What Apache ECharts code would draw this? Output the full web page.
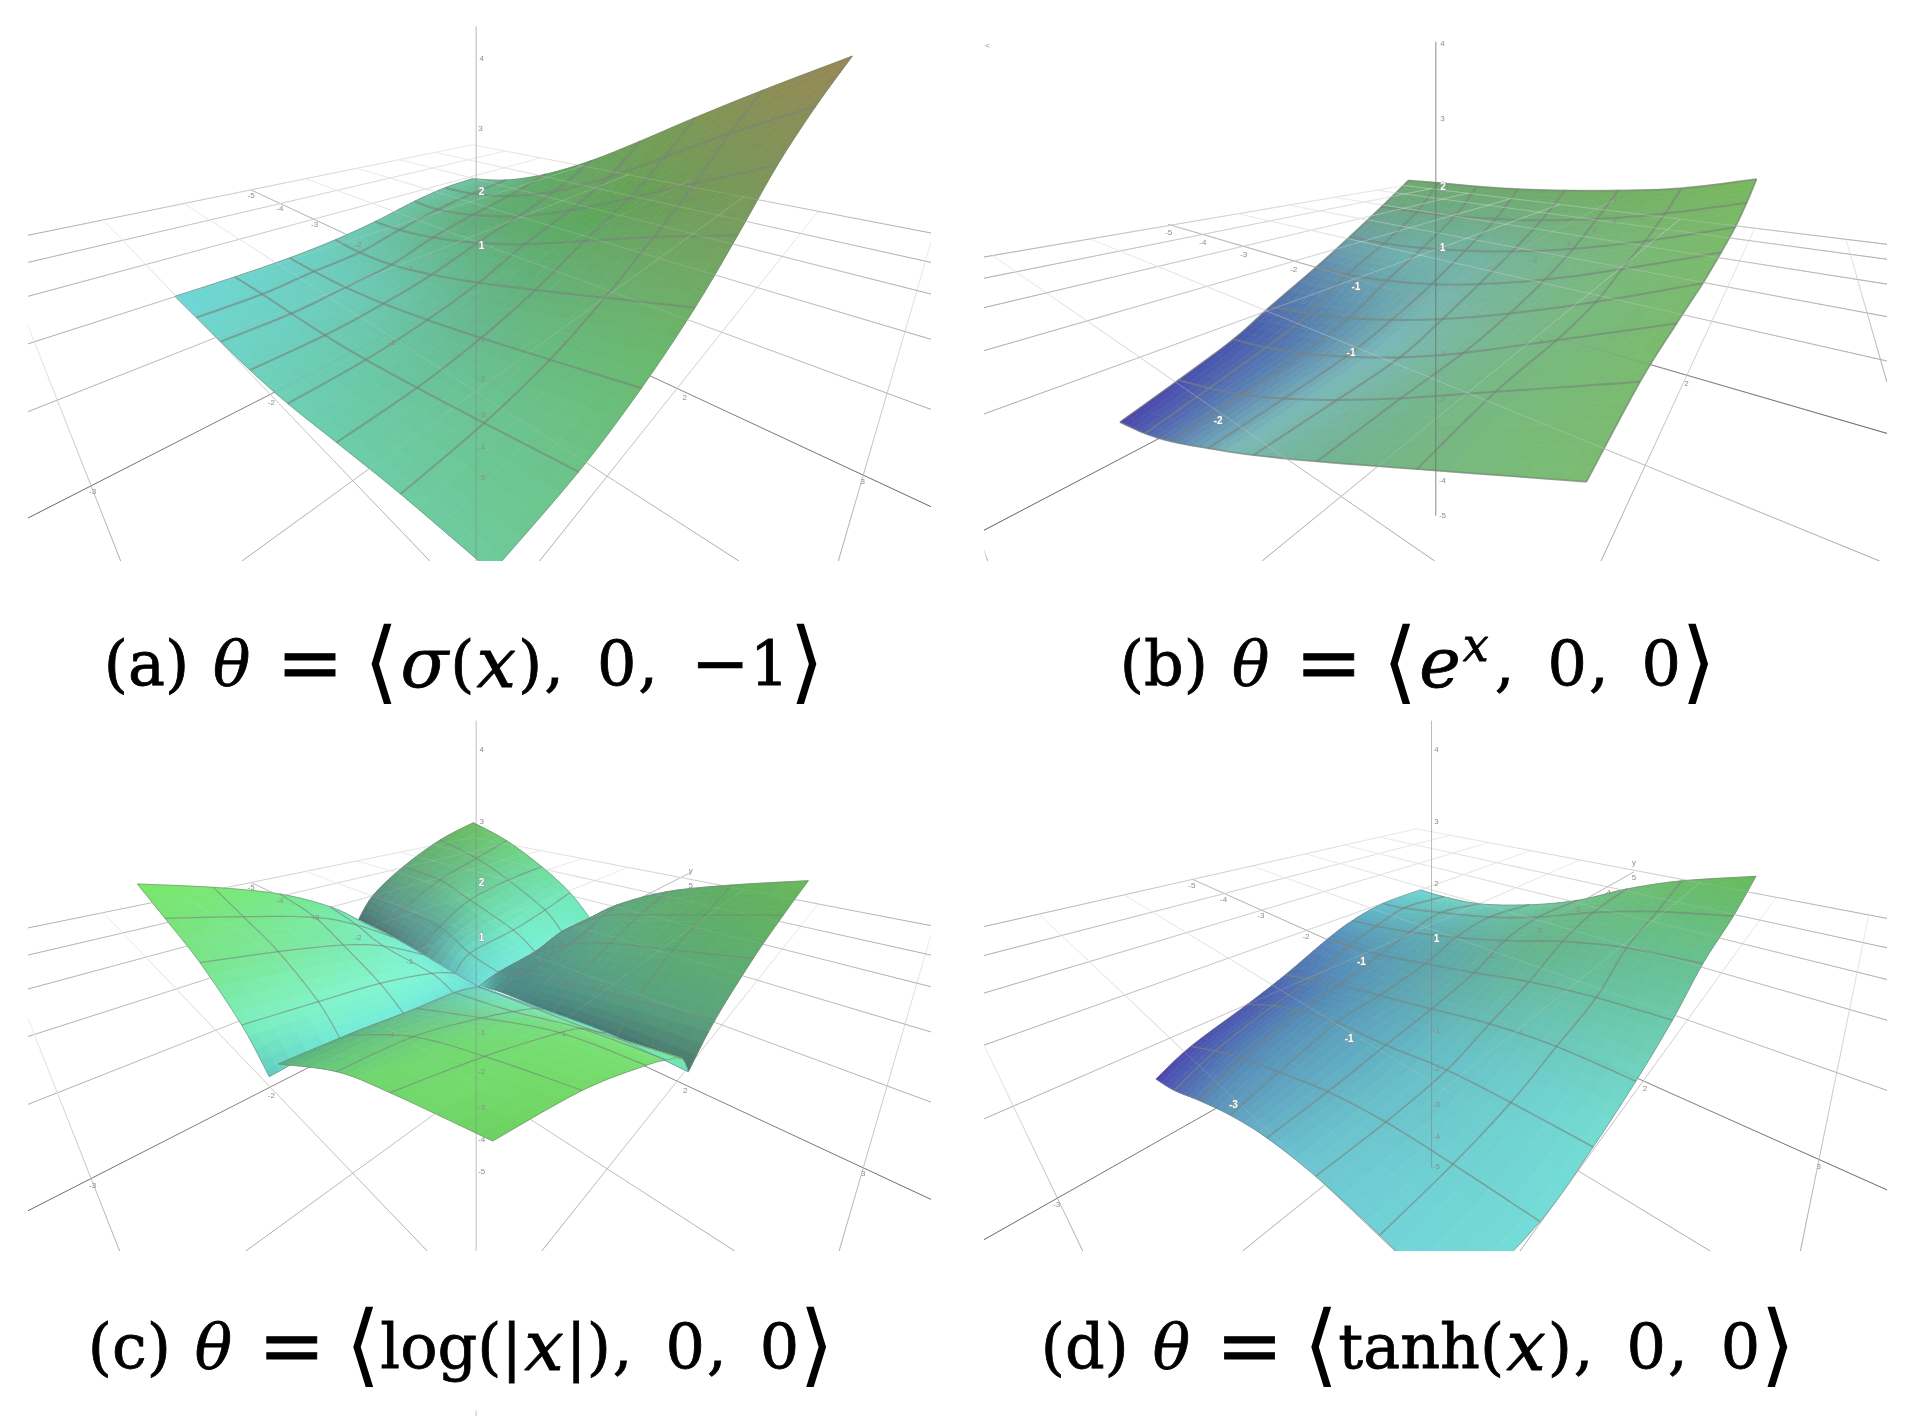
<!DOCTYPE html>
<html>
<head>
<meta charset="utf-8">
<title>Loss surfaces</title>
<style>
  html, body { margin: 0; background: #fff; }
  #chart { width: 1912px; height: 1416px; }
</style>
<script src="https://cdn.jsdelivr.net/npm/echarts@6/dist/echarts.min.js"></script>
</head>
<body>
<div id="chart"></div>
<script>
// panel a: surface nodes (rows run from the near-left edge to the far edge)
const aMeshX = [
  [287, 322, 362, 410, 472, 552, 657, 807],
  [385, 430, 478, 533, 600, 684, 794, 949],
  [475, 515, 567, 629, 701, 789, 902, 1052],
  [550, 590, 642, 708, 785, 878, 992, 1140],
  [615, 655, 710, 783, 860, 958, 1072, 1210],
  [680, 718, 775, 850, 935, 1032, 1140, 1275],
  [730, 775, 835, 910, 998, 1090, 1197, 1338],
  [775, 830, 895, 970, 1050, 1140, 1250, 1398]
];
const aMeshY = [
  [655, 702, 755, 818, 892, 978, 1092, 1265],
  [612, 650, 693, 741, 795, 857, 935, 1043],
  [570, 600, 635, 671, 707, 747, 795, 858],
  [530, 558, 585, 607, 625, 641, 658, 680],
  [490, 508, 525, 537, 540, 533, 524, 520],
  [445, 463, 475, 478, 465, 438, 405, 365],
  [415, 428, 433, 423, 392, 347, 295, 235],
  [395, 398, 385, 355, 312, 260, 200, 124]
];
const aShades = [
  ['#6ed8d8', '#6ed3c6', '#6ccfb0', '#6fcb9b'],
  ['#6dd0c4', '#6cc8b4', '#66b88c', '#69b96c'],
  ['#6cc4a8', '#62ae7a', '#5ca65a', '#7d9558'],
  ['#70c4a8', '#5ea860', '#7a9a55', '#9a8556']
];

// panel b
const bMeshX = [
  [269, 310, 354, 414, 488, 592, 756, 1034],
  [365, 415, 470, 538, 625, 730, 885, 1122],
  [455, 508, 570, 640, 728, 832, 985, 1182],
  [515, 580, 645, 715, 798, 908, 1050, 1225],
  [592, 642, 707, 780, 858, 966, 1092, 1255],
  [646, 702, 765, 835, 912, 1012, 1130, 1278],
  [698, 756, 818, 885, 960, 1051, 1163, 1297],
  [742, 791, 854, 922, 999, 1086, 1190, 1313]
];
const bMeshY = [
  [933, 958, 976, 991, 1006, 1020, 1037, 1065],
  [840, 858, 872, 881, 884, 880, 866, 844],
  [750, 768, 781, 788, 790, 780, 752, 715],
  [678, 693, 703, 707, 705, 693, 667, 626],
  [589, 607, 620, 628, 628, 618, 595, 558],
  [523, 538, 548, 554, 556, 550, 533, 502],
  [457, 468, 478, 484, 487, 484, 472, 448],
  [399, 404, 412, 418, 421, 421, 416, 396]
];
const bShades = [
  ['#4a3fae', '#5878b4', '#7ab8b8', '#72b490', '#7cbc70'],
  ['#4658ae', '#5a85b0', '#7ab8b8', '#78b88f', '#7aba6c'],
  ['#6a9cae', '#6fb0ae', '#74b4a4', '#78b683', '#7aba66'],
  ['#6fab68', '#6ea86c', '#70aa68', '#73b062', '#79b85e']
];

// panel d
const dMeshX = [
  [328, 358, 400, 450, 510, 590, 695, 820],
  [385, 425, 470, 530, 610, 705, 815, 958],
  [478, 520, 565, 625, 705, 805, 910, 1045],
  [540, 582, 630, 695, 780, 875, 985, 1115],
  [610, 645, 695, 770, 850, 940, 1050, 1175],
  [650, 690, 745, 820, 900, 995, 1100, 1225],
  [700, 735, 795, 875, 955, 1045, 1150, 1275],
  [762, 800, 860, 940, 1020, 1100, 1190, 1312]
];
const dMeshY = [
  [820, 845, 868, 900, 950, 1035, 1165, 1330],
  [748, 758, 775, 805, 848, 915, 1008, 1135],
  [655, 658, 670, 695, 745, 800, 872, 970],
  [590, 600, 612, 635, 665, 698, 748, 825],
  [510, 525, 545, 565, 585, 605, 640, 690],
  [470, 482, 495, 507, 514, 516, 530, 565],
  [432, 442, 452, 462, 462, 452, 450, 460],
  [402, 417, 433, 435, 425, 400, 382, 372]
];
const dShades = [
  ['#4a3fb0', '#5a90b8', '#6cc4d0', '#74dddc'],
  ['#4a58ae', '#5590b8', '#66bcc4', '#74dcd2'],
  ['#5a9cc0', '#5da6b4', '#66b58f', '#68c49a'],
  ['#6fd9d9', '#72cfb8', '#6fc080', '#68b957']
];

// panel c: four petals, read at 3x from the crop starting at (130,810)
const farMeshX = [
  [1030, 1130, 1235, 1320, 1380],
  [930, 1040, 1135, 1245, 1295],
  [820, 930, 1020, 1150, 1215],
  [730, 820, 930, 1020, 1105],
  [685, 770, 865, 975, 1045]
];
const farMeshY = [
  [38, 92, 170, 248, 325],
  [90, 145, 210, 300, 365],
  [170, 210, 270, 360, 425],
  [255, 300, 350, 430, 487],
  [330, 370, 425, 490, 530]
];
const farShades = [
  ['#6cc060', '#6ece78', '#6fdc98', '#72e8b8', '#70e8c0'],
  ['#66b268', '#6cc480', '#6fd6a0', '#74eac0', '#78f0d0'],
  ['#64a878', '#68b888', '#6ccf98', '#76ecc8', '#78f0d8'],
  ['#5a8e84', '#5f9e90', '#5faa9c', '#6cd8c4', '#72e8dc'],
  ['#4a6e6e', '#4f7a78', '#58908c', '#66c0c0', '#6ee0d8']
];
const rightMeshX = [
  [1380, 1460, 1610, 1805, 2035],
  [1295, 1420, 1530, 1725, 1960],
  [1215, 1320, 1440, 1630, 1870],
  [1105, 1170, 1330, 1520, 1755],
  [1045, 1110, 1270, 1460, 1675]
];
const rightMeshY = [
  [325, 285, 245, 225, 212],
  [365, 318, 315, 315, 315],
  [425, 402, 400, 420, 445],
  [487, 490, 520, 570, 630],
  [530, 545, 610, 680, 785]
];
const rightShades = [
  ['#70e0b0', '#5aa07a', '#5ea870', '#62b060', '#6cba5c'],
  ['#5aa08c', '#5ea884', '#60ad78', '#5fad68', '#62b25f'],
  ['#4f8f8c', '#589e88', '#5caa80', '#5dab74', '#5eaf6c'],
  ['#4f9090', '#4f8c88', '#559a88', '#58a080', '#5aa47c'],
  ['#6cd8d0', '#4a8a88', '#457a78', '#467672', '#4a6f6a']
];
const leftMeshX = [
  [22, 250, 450, 600, 685],
  [105, 340, 555, 680, 790],
  [210, 445, 640, 760, 880],
  [335, 565, 750, 905, 975],
  [418, 630, 820, 970, 1045]
];
const leftMeshY = [
  [222, 232, 252, 290, 330],
  [325, 320, 322, 345, 382],
  [458, 425, 405, 408, 434],
  [645, 575, 520, 490, 490],
  [800, 685, 610, 548, 530]
];
const leftShades = [
  ['#7ae668', '#78e870', '#72e885', '#70eaa0', '#70e8c0'],
  ['#78e474', '#7ae688', '#7aeaa0', '#78ecb8', '#76f0d0'],
  ['#7ae488', '#7ce89c', '#7ceab0', '#7ef0c8', '#76f0de'],
  ['#7ceebc', '#82f4c8', '#84f6d0', '#80f4d8', '#70e8de'],
  ['#5cc8c0', '#72ecd8', '#72ecdc', '#6ce4dc', '#6edcd8']
];
const frontMeshX = [
  [445, 652, 860, 975, 1045, 1045],
  [620, 850, 1055, 1150, 1215, 1240],
  [780, 1064, 1290, 1355, 1400, 1430],
  [1088, 1357, 1549, 1610, 1655, 1675]
];
const frontMeshY = [
  [762, 675, 595, 548, 530, 530],
  [785, 680, 624, 605, 595, 599],
  [848, 739, 668, 656, 665, 669],
  [993, 841, 766, 750, 745, 785]
];
const frontShades = [
  ['#56b07c', '#5fb280', '#66c09a', '#66cdb0', '#6ed8d0', '#70e0d8'],
  ['#66c87a', '#6cc880', '#72cf90', '#78dea8', '#78e8c0', '#70ecd8'],
  ['#70d670', '#72d873', '#76dc80', '#7ae090', '#7ce8a8', '#70ecd8'],
  ['#72d86a', '#74dc6e', '#78e074', '#7ae480', '#7ae890', '#70ecd8'],
  ['#6ccf60', '#74da68', '#78e070', '#7ae478', '#7ae880', '#6ee8d0']
];

// ground grid, first two lines of every list are the axes
const aGroundX = [
  [46, 1132], [1527, 412], [46, 775], [46, 829], [46, 887], [46, 955], [46, 1031], [397, 1220], [885, 1342], [1375, 1527],
  [1527, 775], [1527, 714], [1527, 656], [1527, 586], [1527, 501], [1212, 302], [705, 169], [198, 46]
];
const aGroundY = [
  [1145, 398], [1120, 420], [520, 320], [580, 334], [655, 349], [760, 367], [910, 386], [1240, 435], [1240, 467], [1240, 535],
  [515, 320], [580, 337], [650, 353], [750, 372], [905, 395], [1240, 450], [1240, 486], [1240, 720]
];
const bGroundX = [
  [46, 1082], [1527, 348], [46, 735], [46, 779], [46, 839], [46, 910], [46, 990], [502, 1188], [1058, 1310], [1527, 1460],
  [1527, 735], [1527, 688], [1527, 620], [1527, 544], [1527, 461], [1515, 220], [785, 60], [52, 46]
];
const bGroundY = [
  [1172, 440], [958, 496], [568, 410], [615, 417], [680, 427], [775, 439], [915, 452], [1240, 484], [1240, 505], [845, 530],
  [540, 410], [573, 420], [628, 436], [700, 453], [798, 472], [1240, 528], [1240, 565], [1240, 1215]
];
const dGroundX = [
  [46, 1112], [1527, 387], [46, 755], [46, 811], [46, 874], [46, 943], [46, 1023], [470, 1221], [925, 1345], [1385, 1497],
  [1527, 755], [1527, 694], [1527, 637], [1527, 573], [1527, 485], [1237, 276], [720, 136], [208, 46]
];
const dGroundY = [
  [1175, 362], [1065, 378], [483, 267], [547, 281], [630, 297], [745, 315], [908, 336], [1200, 386], [1200, 419], [1200, 458],
  [465, 267], [530, 285], [600, 303], [690, 322], [845, 349], [1200, 413], [1200, 455], [1200, 745]
];

// the value axis, as x and y pairs
const aAxisX = [[781, 781]];
const aAxisY = [[58, 1240]];
const bAxisX = [[787, 787]];
const bAxisY = [[92, 1140]];
const cAxisX = [[781, 781], [781, 781]];
const cAxisY = [[28, 1200], [1553, 1568]];
const dAxisX = [[780, 780]];
const dAxisY = [[28, 1015]];

// tick labels
const aTickText = ['4', '3', '-1', '-2', '-3', '-4', '-5', '-5', '-4', '-3', '-2', '-1', '1', '2', '3', '4', '5', 'y', '-1', '1', '2', '3', '-2', '-3'];
const aTickX = [790, 788, 790, 790, 790, 790, 790, 412, 459, 516, 587, 672, 885, 968, 1033, 1088, 1132, 1132, 642, 925, 1123, 1415, 445, 152];
const aTickY = [130, 285, 750, 838, 917, 990, 1057, 432, 462, 497, 540, 595, 594, 538, 494, 458, 428, 396, 757, 757, 880, 1065, 890, 1087];
const aWhiteText = ['2', '1'];
const aWhiteX = [790, 790];
const aWhiteY = [424, 545];

const bTickText = ['4', '3', '-1', '-2', '-3', '-4', '-5', '-5', '-4', '-3', '-2', '1', '2', '3', '4', '5', 'y', '1', '2', '<'];
const bTickX = [798, 798, 797, 797, 797, 798, 798, 349, 405, 472, 554, 882, 951, 1005, 1047, 1080, 1081, 960, 1198, 52];
const bTickY = [96, 263, 781, 884, 976, 1062, 1141, 515, 537, 563, 596, 622, 574, 538, 510, 487, 440, 755, 849, 102];
const bWhiteText = ['2', '1', '-1', '-1', '-2'];
const bWhiteX = [799, 798, 656, 648, 430];
const bWhiteY = [414, 548, 636, 781, 930];

const cTickText = ['4', '3', '-1', '-2', '-3', '-4', '-5', '-5', '-4', '-3', '-2', '-1', '1', '2', '3', '4', '5', 'y', '-1', '1', '2', '3', '-2', '-3'];
const cTickX = [790, 790, 790, 790, 790, 790, 790, 412, 459, 518, 587, 672, 885, 968, 1033, 1088, 1133, 1133, 642, 925, 1124, 1416, 445, 152];
const cTickY = [93, 252, 717, 805, 884, 955, 1024, 397, 426, 463, 507, 561, 557, 503, 459, 422, 393, 359, 723, 720, 847, 1030, 857, 1055];
const cWhiteText = ['2', '1'];
const cWhiteX = [790, 790];
const cWhiteY = [388, 509];

const dTickText = ['4', '3', '2', '-1', '-2', '-3', '-4', '-5', '-5', '-4', '-3', '-2', '1', '2', '3', '4', '5', 'y', '1', '2', '3', '-3'];
const dTickX = [788, 788, 788, 788, 788, 788, 788, 788, 387, 439, 500, 574, 880, 958, 1020, 1070, 1112, 1112, 928, 1130, 1415, 165];
const dTickY = [92, 251, 388, 713, 798, 878, 947, 1013, 392, 423, 460, 505, 548, 492, 447, 408, 376, 342, 718, 841, 1013, 1097];
const dWhiteText = ['1', '-1', '-1', '-3'];
const dWhiteX = [788, 665, 645, 455];
const dWhiteY = [510, 561, 732, 877];

const chart = echarts.init(document.getElementById('chart'));

function hexToRgb(h) {
  return [parseInt(h.slice(1, 3), 16), parseInt(h.slice(3, 5), 16), parseInt(h.slice(5, 7), 16)];
}

// Catmull-Rom through four values, only used to round off the drawn mesh
function cr(p0, p1, p2, p3, t) {
  return 0.5 * (2 * p1 + (p2 - p0) * t + (2 * p0 - 5 * p1 + 4 * p2 - p3) * t * t + (3 * p1 - p0 - 3 * p2 + p3) * t * t * t);
}

function meshAt(m, r, c) {
  const R = m.length - 1;
  const C = m[0].length - 1;
  const r0 = Math.min(Math.floor(r), R - 1);
  const c0 = Math.min(Math.floor(c), C - 1);
  const rowVal = i => {
    const row = m[Math.max(0, Math.min(R, i))];
    return cr(row[Math.max(0, c0 - 1)], row[c0], row[c0 + 1], row[Math.min(C, c0 + 2)], c - c0);
  };
  return cr(rowVal(r0 - 1), rowVal(r0), rowVal(r0 + 1), rowVal(r0 + 2), r - r0);
}

function shadeAt(table, u, v) {
  const R = table.length - 1;
  const C = table[0].length - 1;
  const fr = u * R;
  const fc = v * C;
  const r0 = Math.min(Math.floor(fr), R - 1);
  const c0 = Math.min(Math.floor(fc), C - 1);
  const s = fr - r0;
  const t = fc - c0;
  const a = hexToRgb(table[r0][c0]);
  const b = hexToRgb(table[r0][c0 + 1]);
  const d = hexToRgb(table[r0 + 1][c0]);
  const e = hexToRgb(table[r0 + 1][c0 + 1]);
  const rgb = [0, 1, 2].map(i => Math.round(a[i] * (1 - s) * (1 - t) + b[i] * (1 - s) * t + d[i] * s * (1 - t) + e[i] * s * t));
  return 'rgb(' + rgb.join(',') + ')';
}

function surfacePatches(meshX, meshY, shades, gridIndex, clip, z) {
  const R = meshX.length - 1;
  const C = meshX[0].length - 1;
  const cells = [];
  for (let r = 0; r < R; r++) {
    for (let c = 0; c < C; c++) cells.push([r, c]);
  }
  const SUB = 5;
  return {
    type: 'custom',
    coordinateSystem: 'cartesian2d',
    xAxisIndex: gridIndex,
    yAxisIndex: gridIndex,
    clip: clip,
    silent: true,
    z: z,
    animation: false,
    data: cells,
    renderItem(params, api) {
      const r = api.value(0);
      const c = api.value(1);
      const children = [];
      for (let i = 0; i < SUB; i++) {
        for (let j = 0; j < SUB; j++) {
          const corners = [[i, j], [i, j + 1], [i + 1, j + 1], [i + 1, j]].map(p => {
            const rr = r + p[0] / SUB;
            const cc = c + p[1] / SUB;
            return api.coord([meshAt(meshX, rr, cc), meshAt(meshY, rr, cc)]);
          });
          const fill = shadeAt(shades, (r + (i + 0.5) / SUB) / R, (c + (j + 0.5) / SUB) / C);
          children.push({
            type: 'polygon',
            shape: { points: corners },
            style: { fill: fill, stroke: fill, lineWidth: 0.7 }
          });
        }
      }
      return { type: 'group', children: children };
    }
  };
}

function surfaceLines(meshX, meshY, gridIndex, clip, z, width, borderWidth) {
  const R = meshX.length - 1;
  const C = meshX[0].length - 1;
  const lines = [];
  for (let r = 0; r <= R; r++) lines.push([0, r]);
  for (let c = 0; c <= C; c++) lines.push([1, c]);
  return {
    type: 'custom',
    coordinateSystem: 'cartesian2d',
    xAxisIndex: gridIndex,
    yAxisIndex: gridIndex,
    clip: clip,
    silent: true,
    z: z,
    animation: false,
    data: lines,
    renderItem(params, api) {
      const kind = api.value(0);
      const k = api.value(1);
      const n = kind === 0 ? C : R;
      const border = k === 0 || k === (kind === 0 ? R : C);
      const pts = [];
      for (let s = 0; s <= n * 6; s++) {
        const t = s / 6;
        const rr = kind === 0 ? k : t;
        const cc = kind === 0 ? t : k;
        pts.push(api.coord([meshAt(meshX, rr, cc), meshAt(meshY, rr, cc)]));
      }
      return {
        type: 'polyline',
        shape: { points: pts },
        style: {
          fill: null,
          stroke: border ? 'rgba(115,125,115,0.55)' : 'rgba(120,130,122,0.62)',
          lineWidth: border ? (borderWidth || 1) : width
        }
      };
    }
  };
}

function groundLines(xs, ys, gridIndex, dy, opacity, z) {
  return {
    type: 'custom',
    coordinateSystem: 'cartesian2d',
    xAxisIndex: gridIndex,
    yAxisIndex: gridIndex,
    clip: true,
    silent: true,
    z: z,
    animation: false,
    data: xs.map((p, i) => [p[0], ys[i][0] + dy, p[1], ys[i][1] + dy]),
    renderItem(params, api) {
      const a = api.coord([api.value(0), api.value(1)]);
      const b = api.coord([api.value(2), api.value(3)]);
      const isAxis = params.dataIndex < 2;
      const near = a[1] > b[1] ? a : b;
      const far = a[1] > b[1] ? b : a;
      return {
        type: 'line',
        shape: { x1: a[0], y1: a[1], x2: b[0], y2: b[1] },
        style: {
          lineWidth: 1,
          opacity: opacity,
          stroke: new echarts.graphic.LinearGradient(near[0], near[1], far[0], far[1], [
            { offset: 0, color: isAxis ? '#6f6f6f' : '#b0b0b0' },
            { offset: 1, color: isAxis ? '#bcbcbc' : '#ececec' }
          ], true)
        }
      };
    }
  };
}

function axisLines(xs, ys, gridIndex, color) {
  return {
    type: 'custom',
    coordinateSystem: 'cartesian2d',
    xAxisIndex: gridIndex,
    yAxisIndex: gridIndex,
    clip: false,
    silent: true,
    z: 9,
    animation: false,
    data: xs.map((p, i) => [p[0], ys[i][0], p[1], ys[i][1]]),
    renderItem(params, api) {
      const a = api.coord([api.value(0), api.value(1)]);
      const b = api.coord([api.value(2), api.value(3)]);
      return {
        type: 'line',
        shape: { x1: a[0], y1: a[1], x2: b[0], y2: b[1] },
        style: { stroke: color, lineWidth: 1 }
      };
    }
  };
}

function tickLabels(text, xs, ys, gridIndex, white) {
  return {
    type: 'custom',
    coordinateSystem: 'cartesian2d',
    xAxisIndex: gridIndex,
    yAxisIndex: gridIndex,
    clip: false,
    silent: true,
    z: 10,
    animation: false,
    data: xs.map((x, i) => [x, ys[i]]),
    renderItem(params, api) {
      const p = api.coord([api.value(0), api.value(1)]);
      return {
        type: 'text',
        x: p[0],
        y: p[1],
        style: {
          text: text[params.dataIndex],
          fill: white ? '#ffffff' : '#8c8c8c',
          stroke: white ? '#8f9a94' : null,
          lineWidth: white ? 1 : 0,
          font: (white ? 'bold 10px' : '8px') + ' "Liberation Sans", Arial, sans-serif',
          align: 'center',
          verticalAlign: 'middle'
        }
      };
    }
  };
}

// one drawing grid per panel, in the units the positions were read in
const grids = [
  { left: 28, top: 0, width: 903, height: 561 },
  { left: 984, top: 0, width: 903, height: 561 },
  { left: 28, top: 708, width: 903, height: 543 },
  { left: 984, top: 708, width: 903, height: 543 },
  // panel c surface, 3x crop units
  { left: 130, top: 810, width: 1000, height: 350 }
];
const xAxes = [
  { min: 46, max: 1527 }, { min: 46, max: 1527 }, { min: 46, max: 1527 }, { min: 46, max: 1527 }, { min: 0, max: 3000 }
].map((a, i) => Object.assign({ type: 'value', gridIndex: i, show: false }, a));
const yAxes = [
  { min: 0, max: 1240 }, { min: 0, max: 1240 }, { min: 0, max: 1200 }, { min: 0, max: 1200 }, { min: 0, max: 1050 }
].map((a, i) => Object.assign({ type: 'value', gridIndex: i, show: false, inverse: true }, a));

const series = [
  groundLines(aGroundX, aGroundY, 0, 0, 1, 1),
  groundLines(bGroundX, bGroundY, 1, 0, 1, 1),
  groundLines(aGroundX, aGroundY, 2, -34, 1, 1),
  groundLines(dGroundX, dGroundY, 3, 0, 1, 1),

  surfacePatches(aMeshX, aMeshY, aShades, 0, true, 2),
  surfaceLines(aMeshX, aMeshY, 0, true, 3, 2),
  surfacePatches(bMeshX, bMeshY, bShades, 1, true, 2),
  surfaceLines(bMeshX, bMeshY, 1, true, 3, 2, 1.8),
  surfacePatches(dMeshX, dMeshY, dShades, 3, true, 2),
  surfaceLines(dMeshX, dMeshY, 3, true, 3, 1.6),

  surfacePatches(farMeshX, farMeshY, farShades, 4, false, 2),
  surfaceLines(farMeshX, farMeshY, 4, false, 3, 1.2),
  surfacePatches(rightMeshX, rightMeshY, rightShades, 4, false, 4),
  surfaceLines(rightMeshX, rightMeshY, 4, false, 5, 1.2),
  surfacePatches(leftMeshX, leftMeshY, leftShades, 4, false, 6),
  surfaceLines(leftMeshX, leftMeshY, 4, false, 7, 1.2),
  surfacePatches(frontMeshX, frontMeshY, frontShades, 4, false, 8),
  surfaceLines(frontMeshX, frontMeshY, 4, false, 8.5, 1.2),

  // ground seen faintly through the translucent surfaces
  groundLines(aGroundX, aGroundY, 0, 0, 0.22, 9),
  groundLines(bGroundX, bGroundY, 1, 0, 0.4, 9),
  groundLines(aGroundX, aGroundY, 2, -34, 0.12, 9),
  groundLines(dGroundX, dGroundY, 3, 0, 0.22, 9),

  axisLines(aAxisX, aAxisY, 0, 'rgba(130,130,130,0.55)'),
  axisLines(bAxisX, bAxisY, 1, 'rgba(110,110,110,0.8)'),
  axisLines(cAxisX, cAxisY, 2, 'rgba(130,130,130,0.5)'),
  axisLines(dAxisX, dAxisY, 3, 'rgba(130,130,130,0.55)'),

  tickLabels(aTickText, aTickX, aTickY, 0, false),
  tickLabels(bTickText, bTickX, bTickY, 1, false),
  tickLabels(cTickText, cTickX, cTickY, 2, false),
  tickLabels(dTickText, dTickX, dTickY, 3, false),
  tickLabels(aWhiteText, aWhiteX, aWhiteY, 0, true),
  tickLabels(bWhiteText, bWhiteX, bWhiteY, 1, true),
  tickLabels(cWhiteText, cWhiteX, cWhiteY, 2, true),
  tickLabels(dWhiteText, dWhiteX, dWhiteY, 3, true)
];

const serif = 'DejaVu Serif';
const ink = { color: '#000', fontWeight: 'normal', textBorderColor: '#000', textBorderWidth: 0.8 };
const captionRich = {
  n: Object.assign({ fontFamily: serif, fontSize: 62, lineHeight: 110 }, ink),
  i: Object.assign({ fontFamily: serif, fontStyle: 'italic', fontSize: 70, lineHeight: 110, padding: [0, 2, 0, 2] }, ink),
  th: Object.assign({ fontFamily: serif, fontStyle: 'italic', fontSize: 62, lineHeight: 110, padding: [0, 26, 0, 24] }, ink),
  eq: Object.assign({ fontFamily: serif, fontSize: 80, lineHeight: 110, padding: [0, 20, 0, 0] }, ink),
  br: { fontFamily: 'DejaVu Sans', fontWeight: 'normal', fontSize: 90, lineHeight: 110, color: '#000' },
  c: Object.assign({ fontFamily: serif, fontSize: 62, lineHeight: 110, padding: [0, 33, 0, 2] }, ink),
  m: Object.assign({ fontFamily: serif, fontSize: 70, lineHeight: 110 }, ink),
  s: Object.assign({ fontFamily: serif, fontStyle: 'italic', fontSize: 46, padding: [0, 4, 40, 0] }, ink)
};

function caption(text, cx, top) {
  return {
    text: text,
    left: cx,
    top: top,
    textAlign: 'center',
    padding: 0,
    textStyle: { fontWeight: 'normal', rich: captionRich }
  };
}

chart.setOption({
  animation: false,
  backgroundColor: '#fff',
  grid: grids,
  xAxis: xAxes,
  yAxis: yAxes,
  series: series,
  title: [
    caption('{n|(a)}{th|θ}{eq|=}{br|⟨}{i|σ}{n|(}{i|x}{n|)}{c|,}{n|0}{c|,}{m|−}{n|1}{br|⟩}', 464, 614),
    caption('{n|(b)}{th|θ}{eq|=}{br|⟨}{i|e}{s|x}{c|,}{n|0}{c|,}{n|0}{br|⟩}', 1418, 614),
    caption('{n|(c)}{th|θ}{eq|=}{br|⟨}{n|log(|}{i|x}{n||)}{c|,}{n|0}{c|,}{n|0}{br|⟩}', 461, 1297),
    caption('{n|(d)}{th|θ}{eq|=}{br|⟨}{n|tanh(}{i|x}{n|)}{c|,}{n|0}{c|,}{n|0}{br|⟩}', 1418, 1297)
  ]
});
</script>
</body>
</html>
